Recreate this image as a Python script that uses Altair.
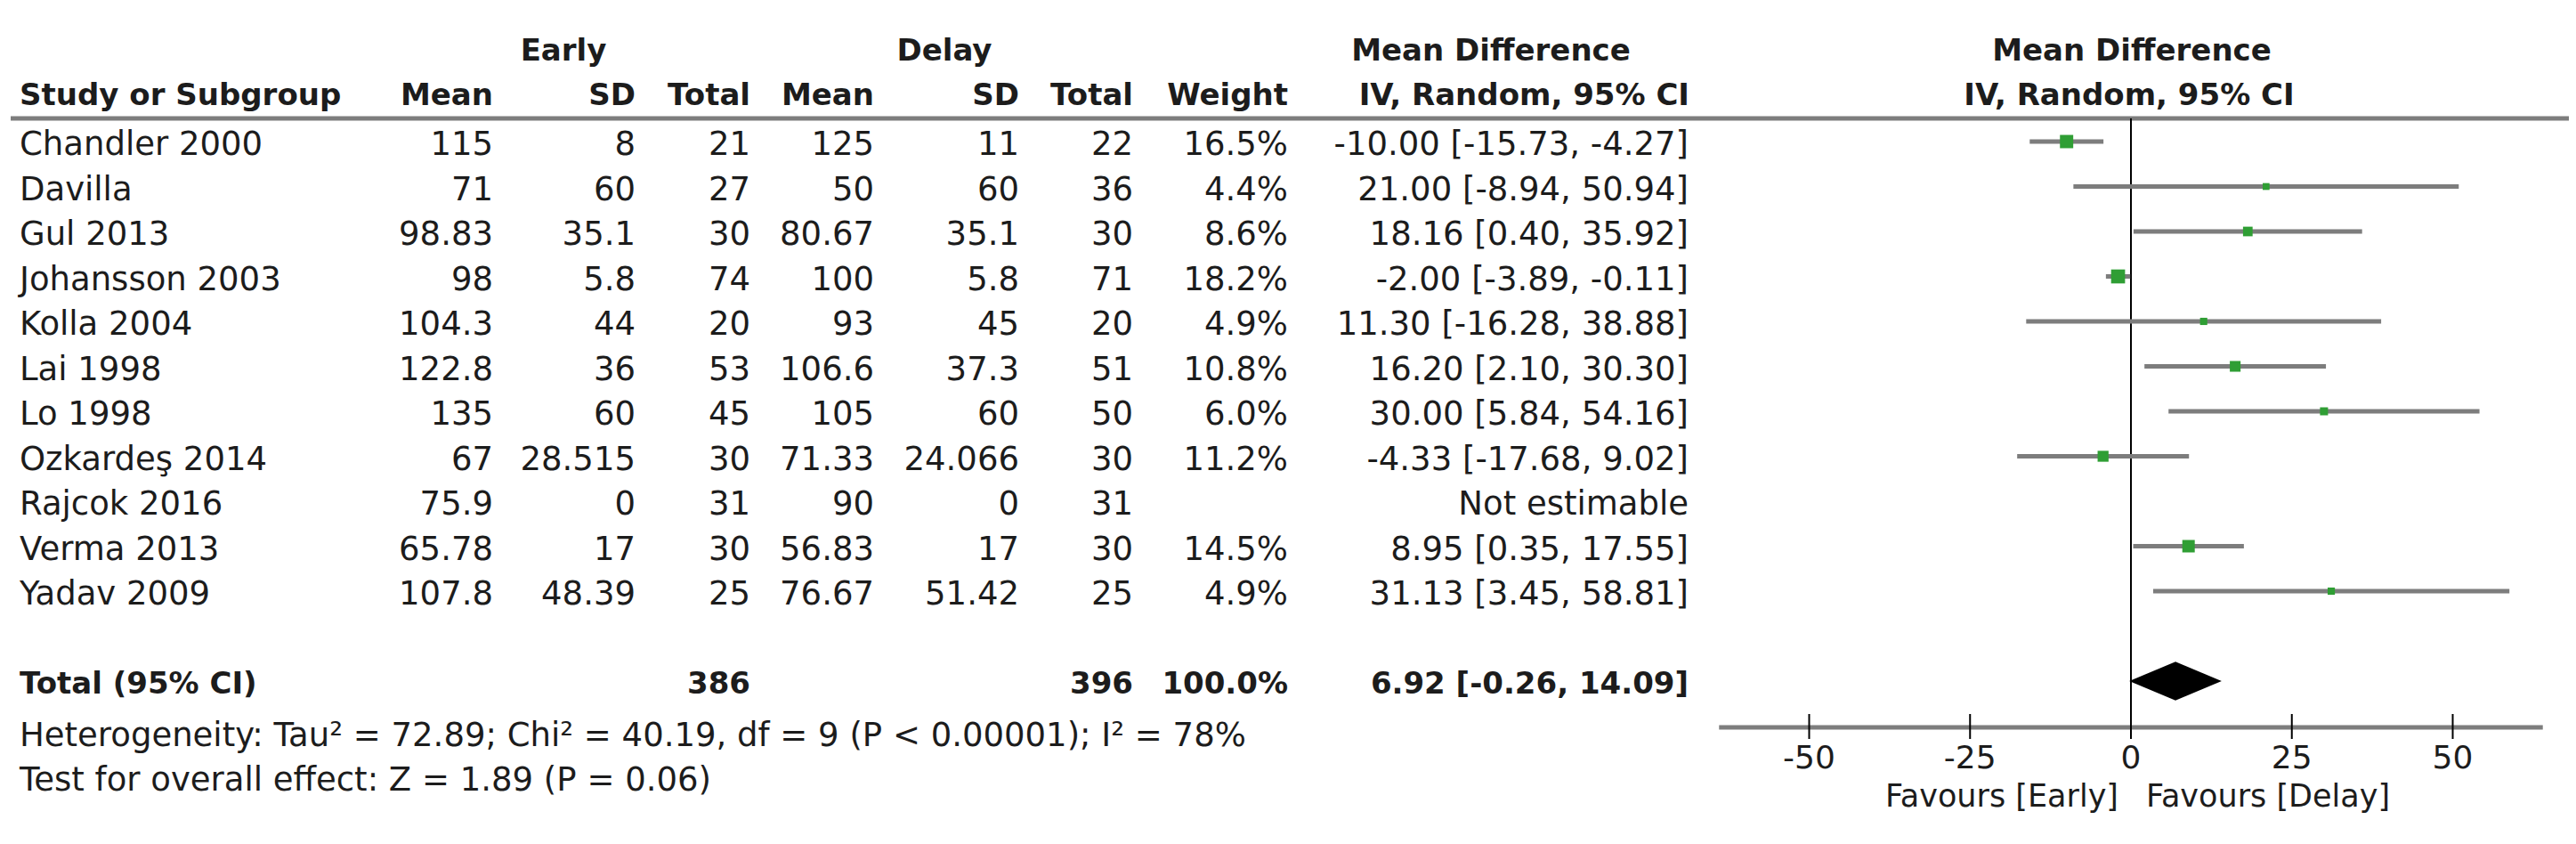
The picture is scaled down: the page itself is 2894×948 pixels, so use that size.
import altair as alt
import pandas as pd

# ---------------- data ----------------
studies = ["Chandler 2000", "Davilla", "Gul 2013", "Johansson 2003", "Kolla 2004",
           "Lai 1998", "Lo 1998", "Ozkardeş 2014", "Rajcok 2016", "Verma 2013", "Yadav 2009"]
early_mean = [115, 71, 98.83, 98, 104.3, 122.8, 135, 67, 75.9, 65.78, 107.8]
early_sd = [8, 60, 35.1, 5.8, 44, 36, 60, 28.515, 0, 17, 48.39]
early_n = [21, 27, 30, 74, 20, 53, 45, 30, 31, 30, 25]
delay_mean = [125, 50, 80.67, 100, 93, 106.6, 105, 71.33, 90, 56.83, 76.67]
delay_sd = [11, 60, 35.1, 5.8, 45, 37.3, 60, 24.066, 0, 17, 51.42]
delay_n = [22, 36, 30, 71, 20, 51, 50, 30, 31, 30, 25]
weight = [16.5, 4.4, 8.6, 18.2, 4.9, 10.8, 6.0, 11.2, None, 14.5, 4.9]
md = [-10.00, 21.00, 18.16, -2.00, 11.30, 16.20, 30.00, -4.33, None, 8.95, 31.13]
ci_lo = [-15.73, -8.94, 0.40, -3.89, -16.28, 2.10, 5.84, -17.68, None, 0.35, 3.45]
ci_hi = [-4.27, 50.94, 35.92, -0.11, 38.88, 30.30, 54.16, 9.02, None, 17.55, 58.81]

total_early = 386
total_delay = 396
total_weight = 100.0
pooled_md = 6.92
pooled_lo = -0.26
pooled_hi = 14.09
heterogeneity = "Heterogeneity: Tau² = 72.89; Chi² = 40.19, df = 9 (P < 0.00001); I² = 78%"
overall = "Test for overall effect: Z = 1.89 (P = 0.06)"
ticks = [-50, -25, 0, 25, 50]
tick_labels = ["-50", "-25", "0", "25", "50"]
axis_range = [-64, 64]

# ---------------- layout ----------------
W, H = 2878, 930
ZERO_PX = 2386.0      # pixel position of MD = 0
PXU = 7.23            # pixels per unit of MD
ROW0, ROWH = 151.0, 50.5
TOTAL_ROW = 12.0
FONT = "DejaVu Sans"
FS = 37
FSF = 37
FSB = 34
TXT = "#1c1c1c"
GRAY = "#7d7d7d"
GREEN = "#2f9e34"
DY = 4

xscale = alt.Scale(domain=[-ZERO_PX / PXU, (W - ZERO_PX) / PXU], nice=False, zero=False)
yscale = alt.Scale(domain=[-ROW0 / ROWH, (H - ROW0) / ROWH], nice=False, zero=False, reverse=True)


def fmt(v):
    return str(v)


rows = pd.DataFrame({
    "row": list(range(len(studies))),
    "study": studies,
    "em": [fmt(v) for v in early_mean],
    "esd": [fmt(v) for v in early_sd],
    "en": [fmt(v) for v in early_n],
    "dm": [fmt(v) for v in delay_mean],
    "dsd": [fmt(v) for v in delay_sd],
    "dn": [fmt(v) for v in delay_n],
    "w": ["" if w is None else f"{w:.1f}%" for w in weight],
    "ci": ["Not estimable" if m is None else f"{m:.2f} [{l:.2f}, {h:.2f}]"
           for m, l, h in zip(md, ci_lo, ci_hi)],
})

est = pd.DataFrame({
    "row": [i for i, m in enumerate(md) if m is not None],
    "md": [m for m in md if m is not None],
    "lo": [l for l in ci_lo if l is not None],
    "hi": [h for h in ci_hi if h is not None],
    "w": [w for w in weight if w is not None],
})

Y = alt.Y("row:Q", scale=yscale, axis=None)
layers = []


def col(field, x, align="right"):
    return alt.Chart(rows).mark_text(
        align=align, baseline="middle", font=FONT, fontSize=FS, dy=DY,
        fontWeight="normal", color=TXT
    ).encode(x=alt.value(x), y=Y, text=f"{field}:N")


def label(text, x, y, align="left", bold=False, size=None):
    return alt.Chart(pd.DataFrame({"t": [text]})).mark_text(
        align=align, baseline="middle", font=FONT,
        fontSize=size if size else (FSB if bold else FS),
        fontWeight="bold" if bold else "normal", color=TXT
    ).encode(x=alt.value(x), y=alt.value(y), text="t:N")


# table columns
layers.append(col("study", 14, align="left"))
for f, x in [("em", 546), ("esd", 706), ("en", 835), ("dm", 974), ("dsd", 1137),
             ("dn", 1265), ("w", 1439), ("ci", 1889)]:
    layers.append(col(f, x))

# headers
layers += [
    label("Early", 625, 50, "center", True),
    label("Delay", 1053, 50, "center", True),
    label("Mean Difference", 1667, 50, "center", True),
    label("Mean Difference", 2387, 50, "center", True),
    label("Study or Subgroup", 14, 100, "left", True),
    label("Mean", 546, 100, "right", True),
    label("SD", 706, 100, "right", True),
    label("Total", 835, 100, "right", True),
    label("Mean", 974, 100, "right", True),
    label("SD", 1137, 100, "right", True),
    label("Total", 1265, 100, "right", True),
    label("Weight", 1439, 100, "right", True),
    label("IV, Random, 95% CI", 1890, 100, "right", True),
    label("IV, Random, 95% CI", 2384, 100, "center", True),
]

# header rule
layers.append(alt.Chart(pd.DataFrame({"a": [0]})).mark_rule(color=GRAY, strokeWidth=5).encode(
    x=alt.value(4), x2=alt.value(W), y=alt.value(125)))

# totals row
tot_y = ROW0 + TOTAL_ROW * ROWH + DY
layers += [
    label("Total (95% CI)", 14, tot_y, "left", True),
    label(str(total_early), 835, tot_y, "right", True),
    label(str(total_delay), 1265, tot_y, "right", True),
    label(f"{total_weight:.1f}%", 1439, tot_y, "right", True),
    label(f"{pooled_md:.2f} [{pooled_lo:.2f}, {pooled_hi:.2f}]", 1889, tot_y, "right", True),
    label(heterogeneity, 14, 819, "left", size=FSF),
    label(overall, 14, 869, "left", size=FSF),
]

# zero line
layers.append(alt.Chart(pd.DataFrame({"z": [0]})).mark_rule(color="black", strokeWidth=2).encode(
    x=alt.X("z:Q", scale=xscale, axis=None), y=alt.value(125), y2=alt.value(809)))

# CI lines and squares
layers.append(alt.Chart(est).mark_rule(color=GRAY, strokeWidth=5).encode(
    x=alt.X("lo:Q", scale=xscale, axis=None), x2="hi:Q", y=Y))
layers.append(alt.Chart(est).mark_square(color=GREEN, opacity=1).encode(
    x=alt.X("md:Q", scale=xscale, axis=None), y=Y,
    size=alt.Size("w:Q", scale=alt.Scale(domain=[0, 20], range=[0, 270]), legend=None)))

# pooled diamond
half = 0.43
dia = pd.DataFrame({
    "x": [pooled_lo, pooled_md, pooled_hi],
    "y1": [TOTAL_ROW, TOTAL_ROW - half, TOTAL_ROW],
    "y2": [TOTAL_ROW, TOTAL_ROW + half, TOTAL_ROW],
})
layers.append(alt.Chart(dia).mark_area(color="black", orient="vertical", opacity=1).encode(
    x=alt.X("x:Q", scale=xscale, axis=None),
    y=alt.Y("y1:Q", scale=yscale, axis=None), y2="y2:Q"))

# forest axis
layers.append(alt.Chart(pd.DataFrame({"a": [axis_range[0]], "b": [axis_range[1]]})).mark_rule(
    color=GRAY, strokeWidth=5).encode(
    x=alt.X("a:Q", scale=xscale, axis=None), x2="b:Q", y=alt.value(809)))
tick_df = pd.DataFrame({"v": ticks, "lab": tick_labels})
layers.append(alt.Chart(tick_df).mark_rule(color="black", strokeWidth=2).encode(
    x=alt.X("v:Q", scale=xscale, axis=None), y=alt.value(794), y2=alt.value(822)))
layers.append(alt.Chart(tick_df).mark_text(
    align="center", baseline="middle", font=FONT, fontSize=36, color=TXT).encode(
    x=alt.X("v:Q", scale=xscale, axis=None), y=alt.value(844), text="lab:N"))
layers += [
    label("Favours [Early]", 2372, 887, "right", size=35),
    label("Favours [Delay]", 2403, 887, "left", size=35),
]

chart = alt.layer(*layers).properties(
    width=W, height=H, padding=0, background="white",
    autosize=alt.AutoSizeParams(type="none"),
).configure_view(stroke=None)

chart.save("out.html", embed_options={"renderer": "svg", "actions": False})
